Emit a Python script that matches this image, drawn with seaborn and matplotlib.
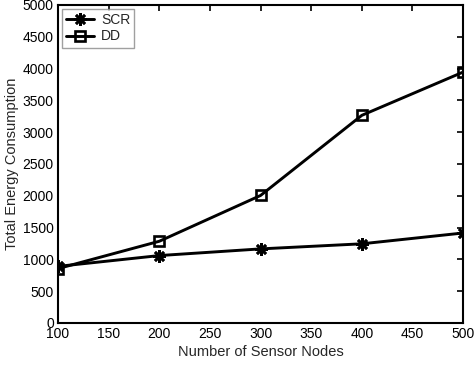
import pandas as pd
import matplotlib
matplotlib.use('Agg')
import matplotlib.pyplot as plt
import seaborn as sns

# data
nodes = [100, 200, 300, 400, 500]
scr_energy = [890, 1060, 1165, 1245, 1415]
dd_energy = [855, 1285, 2005, 3265, 3945]

series = {'SCR': scr_energy, 'DD': dd_energy}
marker_map = {'SCR': (8, 2, 0), 'DD': 's'}
size_map = {'SCR': 9, 'DD': 7.5}

sns.set_style('white')
plt.rcParams['font.family'] = ['Liberation Sans', 'DejaVu Sans']

fig = plt.figure(figsize=(4.74, 3.75), dpi=100)
ax = fig.add_axes([0.1224, 0.1387, 0.977 - 0.1224, 0.9867 - 0.1387])

for name, vals in series.items():
    sns.lineplot(x=nodes, y=vals, color='black', marker=marker_map[name],
                 linewidth=2.1, markersize=size_map[name], markeredgewidth=1.9,
                 markerfacecolor='none', markeredgecolor='black',
                 label=name, ax=ax)

ax.set_xlim(100, 500)
ax.set_ylim(0, 5000)
ax.set_xticks(range(100, 501, 50))
ax.set_yticks(range(0, 5001, 500))
ax.tick_params(direction='in', length=4, width=1.2, top=True, right=True,
               labelsize=10, colors='black', pad=3)
for s in ax.spines.values():
    s.set_linewidth(1.5)
    s.set_color('black')
    s.set_visible(True)

ax.set_xlabel('Number of Sensor Nodes', fontsize=10.5, labelpad=3)
ax.set_ylabel('Total Energy Consumption', fontsize=10.5, labelpad=3)

leg = ax.legend(loc='upper left', fontsize=10, frameon=True, fancybox=False,
                edgecolor='#888888', borderaxespad=0.3, handlelength=2.0,
                borderpad=0.3, labelspacing=0.15, handletextpad=0.5)
leg.get_frame().set_linewidth(1.0)

plt.savefig('out.png', dpi=100)
